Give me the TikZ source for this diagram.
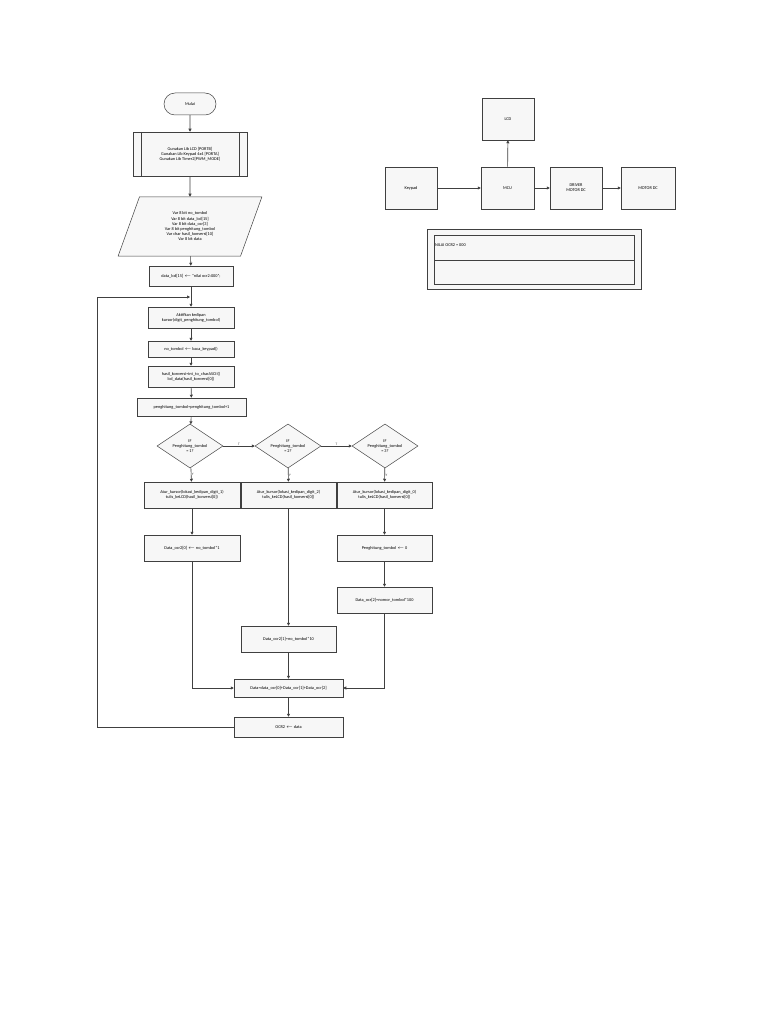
\documentclass[tikz,border=0pt]{standalone}
\usepackage{fontspec}
\setmainfont{Carlito}
\usetikzlibrary{shapes.geometric,shapes.misc,arrows.meta}
\begin{document}
\begin{tikzpicture}[x=1pt,y=-1pt,
  bx/.style={draw=black!75,fill=gray!6,line width=0.5pt,font=\fontsize{4.3}{5.2}\selectfont,align=center,inner sep=0pt},
  ar/.style={-{Triangle[length=3pt,width=3pt]},black!75,line width=0.6pt},
  ln/.style={black!75,line width=0.6pt},
  lb/.style={font=\fontsize{3.5}{4}\selectfont,inner sep=0.5pt}]
\useasboundingbox (0,0) rectangle (768,1024);
\fill[white] (0,0) rectangle (768,1024);
\def\bxr#1#2#3#4#5#6{\node[bx,minimum width=#4-#2,minimum height=#5-#3] (#1) at ({(#2+#4)/2},{(#3+#5)/2}) {#6};}
\node[bx,rounded rectangle,minimum width=52,minimum height=22] (mulai) at (190,104) {Mulai};
\bxr{lib}{133}{132}{247}{176}{Gunakan Lib LCD [PORTB]\\Gunakan Lib Keypad 4x4 [PORTA]\\Gunakan Lib Timer2[PWM\_MODE]}
\draw[ln] (141,132)--(141,176) (239,132)--(239,176);
\node[bx,trapezium,trapezium left angle=70,trapezium right angle=110,minimum width=144,minimum height=59,trapezium stretches=true] (var) at (190,226.5) {Var 8 bit no\_tombol\\Var 8 bit data\_lcd[15]\\Var 8 bit data\_ocr[3]\\Var 8 bit penghitung\_tombol\\Var char hasil\_konversi[10]\\Var 8 bit data};
\bxr{dl}{149}{266}{233}{286}{data\_lcd[15] $\leftarrow$ "nilai ocr2:000";}
\bxr{akt}{148}{307}{234}{328}{Aktifkan kedipan\\kursor(digit\_penghitung\_tombol)}
\bxr{nt}{148}{341}{234}{357}{no\_tombol $\leftarrow$ baca\_keypad()}
\bxr{hk}{148}{366}{234}{387}{hasil\_konversi=int\_to\_charASCII()\\lcd\_data(hasil\_konversi[0])}
\bxr{pt}{137}{398}{246}{416}{penghitung\_tombol=penghitung\_tombol+1}
\foreach \n/\x/\v in {d1/190/1, d2/288/2, d3/385/3}
  \node[bx,diamond,aspect=1.5,minimum width=66,minimum height=44] (\n) at (\x,446) {IF\\Penghitung\_tombol\\= \v?};
\bxr{a1}{144}{482}{240}{508}{Atur\_kursor(lokasi\_kedipan\_digit\_1)\\tulis\_keLCD(hasil\_konversi[0])}
\bxr{a2}{241}{482}{336}{508}{Atur\_kursor(lokasi\_kedipan\_digit\_2)\\tulis\_keLCD(hasil\_konversi[0])}
\bxr{a3}{337}{482}{432}{508}{Atur\_kursor(lokasi\_kedipan\_digit\_0)\\tulis\_keLCD(hasil\_konversi[0])}
\bxr{o0}{144}{535}{240}{561}{Data\_ocr2[0] $\leftarrow$ no\_tombol*1}
\bxr{p0}{337}{535}{432}{561}{Penghitung\_tombol $\leftarrow$ 0}
\bxr{o2}{337}{587}{432}{613}{Data\_ocr[2]=nomor\_tombol*100}
\bxr{o1}{241}{626}{336}{652}{Data\_ocr2[1]=no\_tombol*10}
\bxr{sum}{234}{679}{343}{697}{Data=data\_ocr[0]+Data\_ocr[1]+Data\_ocr[2]}
\bxr{ocr}{234}{717}{343}{737}{OCR2 $\leftarrow$ data}
\draw[ar] (mulai)--(lib);
\draw[ar] (lib)--(var);
\draw[ar] (var)--(dl);
\draw[ar] (dl)--(akt);
\draw[ar] (akt)--(nt);
\draw[ar] (nt)--(hk);
\draw[ar] (hk)--(pt);
\draw[ar] (pt)--(d1);
\draw[ar] (d1)--node[lb,above]{T}(d2);
\draw[ar] (d2)--node[lb,above]{T}(d3);
\draw[ar] (d1)--node[lb,right]{Y}(a1);
\draw[ar] (d2)--node[lb,right]{Y}(a2);
\draw[ar] (d3)--node[lb,right]{Y}(a3);
\draw[ar] (a1)--(o0);
\draw[ar] (a2)--(o1);
\draw[ar] (a3)--(p0);
\draw[ar] (p0)--(o2);
\draw[ar] (o1)--(sum);
\draw[ar] (o0.south)|-(sum.west);
\draw[ar] (o2.south)|-(sum.east);
\draw[ar] (sum)--(ocr);
\coordinate (lp1) at (97,727);
\coordinate (lp2) at (97,297);
\coordinate (lp3) at (190,297);
\draw[ar] (ocr.west)--(lp1)--(lp2)--(lp3);
% block diagram
\bxr{lcd}{482}{98}{534}{140}{LCD}
\bxr{kp}{385}{167}{437}{209}{Keypad}
\bxr{mcu}{481}{167}{534}{209}{MCU}
\bxr{drv}{550}{167}{602}{209}{DRIVER\\MOTOR DC}
\bxr{mot}{621}{167}{675}{209}{MOTOR DC}
\draw[ar] (kp)--(mcu);
\draw[ar] (mcu)--(lcd);
\draw[ar] (mcu)--(drv);
\draw[ar] (drv)--(mot);
\bxr{disp}{427}{229}{641}{289}{}
\bxr{row1}{434}{235}{634}{260}{}
\bxr{row2}{434}{260}{634}{284}{}
\node[font=\fontsize{4.3}{5}\selectfont,anchor=west,inner sep=1pt] (nilai) at (434,245) {NILAI OCR2 = 000};
\end{tikzpicture}
\end{document}
